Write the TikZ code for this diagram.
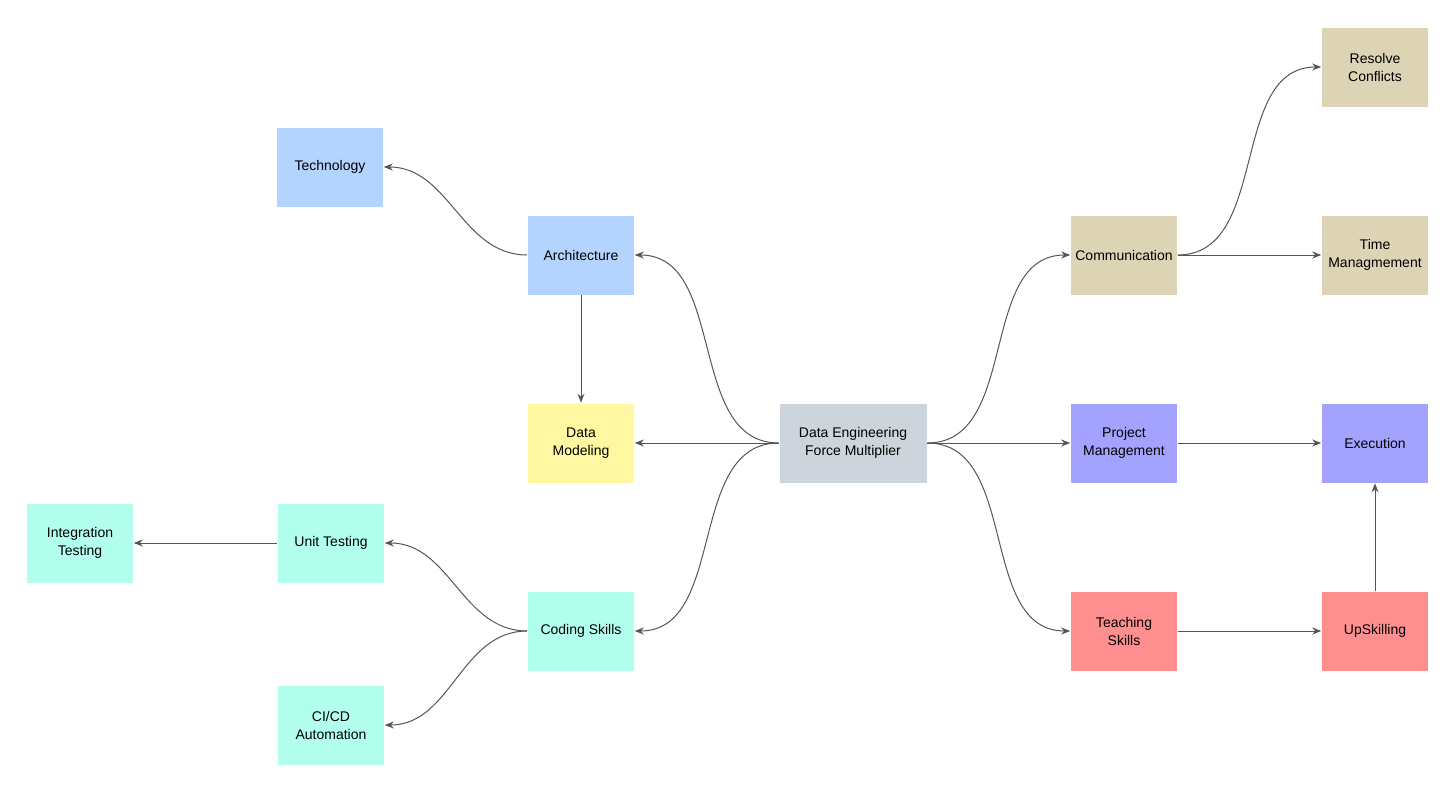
\documentclass[tikz,border=0pt]{standalone}
\usepackage{fontspec}
\setmainfont{Liberation Sans}
\usetikzlibrary{arrows.meta}
\definecolor{cblue}{HTML}{B3D4FF}
\definecolor{cyel}{HTML}{FFF7A1}
\definecolor{cgray}{HTML}{CED4DB}
\definecolor{cteal}{HTML}{B3FFEE}
\definecolor{ctan}{HTML}{DDD3B5}
\definecolor{cpur}{HTML}{A3A3FF}
\definecolor{cred}{HTML}{FF8F8F}
\definecolor{cline}{HTML}{555555}
\begin{document}
\begin{tikzpicture}[x=1pt,y=-1pt,
 box/.style={rectangle,minimum width=107pt,minimum height=80pt,align=center,draw=white,line width=0.6pt,inner sep=1pt,font=\fontsize{14}{18}\selectfont},
 conn/.style={draw=cline,line width=1pt,-{Stealth[length=9pt,width=7pt]}}]
\useasboundingbox (0,0) rectangle (1456,792);
\node[box,fill=cblue] (tech) at (330,167) {Technology};
\node[box,fill=cblue] (arch) at (581,255) {Architecture};
\node[box,fill=cyel] (dm) at (581,443) {Data\\Modeling};
\node[box,fill=cgray,minimum width=148pt] (c) at (853,443) {Data Engineering\\Force Multiplier};
\node[box,fill=cteal] (code) at (581,631) {Coding Skills};
\node[box,fill=cteal] (unit) at (331,543) {Unit Testing};
\node[box,fill=cteal] (integ) at (80,543) {Integration\\Testing};
\node[box,fill=cteal] (cicd) at (331,725) {CI/CD\\Automation};
\node[box,fill=ctan] (comm) at (1124,255) {Communication};
\node[box,fill=ctan] (res) at (1375,67) {Resolve\\Conflicts};
\node[box,fill=ctan] (time) at (1375,255) {Time\\Managmement};
\node[box,fill=cpur] (pm) at (1124,443) {Project\\Management};
\node[box,fill=cpur] (exec) at (1375,443) {Execution};
\node[box,fill=cred] (teach) at (1124,631) {Teaching\\Skills};
\node[box,fill=cred] (up) at (1375,631) {UpSkilling};
\draw[conn] (c.west) to[out=180,in=0] (arch.east);
\draw[conn] (c.west) -- (dm.east);
\draw[conn] (c.west) to[out=180,in=0] (code.east);
\draw[conn] (arch.west) to[out=180,in=0] (tech.east);
\draw[conn] (arch.south) -- (dm.north);
\draw[conn] (code.west) to[out=180,in=0] (unit.east);
\draw[conn] (code.west) to[out=180,in=0] (cicd.east);
\draw[conn] (unit.west) -- (integ.east);
\draw[conn] (c.east) to[out=0,in=180] (comm.west);
\draw[conn] (c.east) -- (pm.west);
\draw[conn] (c.east) to[out=0,in=180] (teach.west);
\draw[conn] (comm.east) to[out=0,in=180] (res.west);
\draw[conn] (comm.east) -- (time.west);
\draw[conn] (pm.east) -- (exec.west);
\draw[conn] (teach.east) -- (up.west);
\draw[conn] (up.north) -- (exec.south);
\end{tikzpicture}
\end{document}
